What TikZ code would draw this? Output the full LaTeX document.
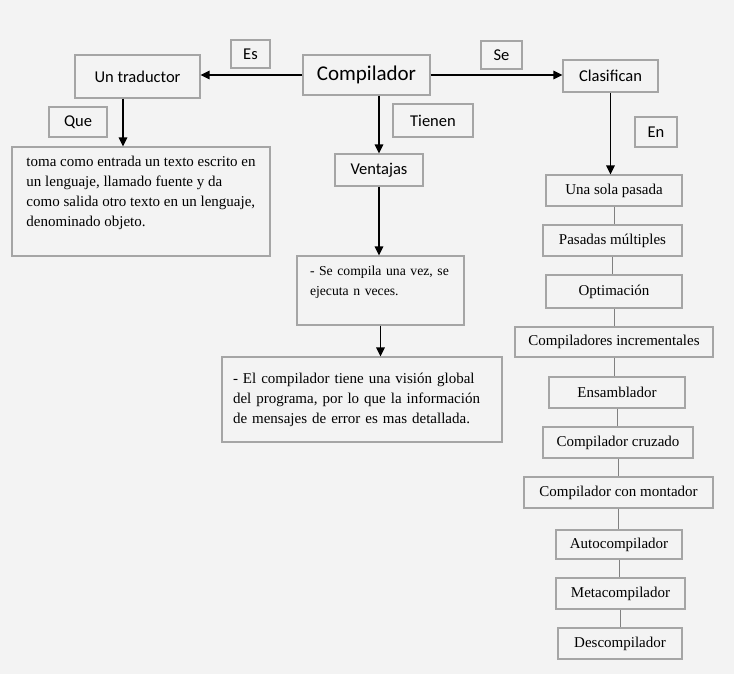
\documentclass[tikz,border=0pt]{standalone}
\usepackage{fontspec}
\setmainfont{Liberation Serif}
\newfontfamily\calibri{Carlito}
\usetikzlibrary{arrows.meta}
\definecolor{fondo}{RGB}{243,243,243}
\definecolor{borde}{RGB}{165,165,165}

\begin{document}
\begin{tikzpicture}[x=1pt,y=-1pt,
    caja/.style={draw=borde,line width=1.2pt,fill=fondo,inner sep=0pt},
    rot/.style={caja,font=\calibri\fontsize{16.5}{20}\selectfont},
    item/.style={caja,font=\fontsize{15}{20}\selectfont},
    flecha/.style={-{Triangle[length=9pt,width=8.5pt]},line width=1.3pt},
    linea/.style={line width=1pt,draw=gray}]%
  \useasboundingbox[fill=fondo] (0,0) rectangle (734,674);%
  % fila de arriba
  \node[rot,minimum width=127pt,minimum height=40pt,font=\calibri\fontsize{21}{24}\selectfont] (comp) at (366.5,75) {Compilador};%
  \node[rot,minimum width=125pt,minimum height=43pt] (trad) at (137.5,76.5) {Un traductor};%
  \node[rot,minimum width=95pt,minimum height=32pt] (clas) at (610.5,76) {Clasifican};%
  \node[rot,minimum width=39pt,minimum height=28pt] (es) at (250.5,54) {Es};%
  \node[rot,minimum width=41pt,minimum height=28pt] (se) at (501.5,55) {Se};%
  % traductor
  \node[rot,minimum width=58pt,minimum height=30pt] (que) at (78,122) {Que};%
  \node[item,minimum width=258pt,minimum height=109pt,align=left] (toma) at (141,201.5)
    {toma como entrada un texto escrito en\\ un lenguaje, llamado fuente y da\\ como salida otro texto en un lenguaje,\\ denominado objeto.\\ \mbox{}};%
  % ventajas
  \node[rot,minimum width=80pt,minimum height=33pt] (tie) at (433,120.5) {Tienen};%
  \node[rot,minimum width=88pt,minimum height=32pt] (ven) at (379,170) {Ventajas};%
  \node[item,minimum width=167pt,minimum height=69pt,inner xsep=13pt,text width=141pt,align=left,font=\fontsize{13.7}{20}\selectfont] (secomp) at (380.5,290.5)
    {- Se compila una vez, se\\ ejecuta n veces.\\ \mbox{}};%
  \node[item,minimum width=280pt,minimum height=85pt,inner xsep=11pt,text width=258pt,align=left] (elcomp) at (362,399.5)
    {- El compilador tiene una visi\'on global\\ del programa, por lo que la informaci\'on\\ de mensajes de error es mas detallada.};%
  % clasificacion
  \node[rot,minimum width=42pt,minimum height=30pt] (en) at (656,132) {En};%
  \node[item,minimum width=136pt,minimum height=31pt] (c1) at (614,190.5) {Una sola pasada};%
  \node[item,minimum width=139pt,minimum height=31pt] (c2) at (612.5,240.5) {Pasadas m\'ultiples};%
  \node[item,minimum width=136pt,minimum height=33pt] (c3) at (614,291.5) {Optimaci\'on};%
  \node[item,minimum width=198pt,minimum height=30pt] (c4) at (614,342) {Compiladores incrementales};%
  \node[item,minimum width=136pt,minimum height=31pt] (c5) at (617,392.5) {Ensamblador};%
  \node[item,minimum width=150pt,minimum height=31pt] (c6) at (618,442.5) {Compilador cruzado};%
  \node[item,minimum width=189pt,minimum height=31pt] (c7) at (618.5,492.5) {Compilador con montador};%
  \node[item,minimum width=126pt,minimum height=29pt] (c8) at (619,544.5) {Autocompilador};%
  \node[item,minimum width=129pt,minimum height=31pt] (c9) at (620.5,593.5) {Metacompilador};%
  \node[item,minimum width=124pt,minimum height=31pt] (c10) at (620,643.5) {Descompilador};%
  % flechas
  \coordinate (q) at ([xshift=-14.5pt]trad.south);%
  \draw[flecha] (comp.west) -- (comp.west -| trad.east);%
  \draw[flecha] (comp.east) -- (comp.east -| clas.west);%
  \draw[flecha] (q) -- (q |- toma.north);%
  \draw[flecha] (ven.north |- comp.south) -- (ven.north);%
  \draw[flecha] (ven.south) -- (ven.south |- secomp.north);%
  \draw[flecha] (secomp.south) -- (secomp.south |- elcomp.north);%
  \draw[flecha] (clas.south) -- (clas.south |- c1.north);%
  \foreach \a/\b in {c1/c2,c2/c3,c3/c4,c4/c5,c5/c6,c6/c7,c7/c8,c8/c9,c9/c10}
    \draw[linea] (\a.south) -- (\a.south |- \b.north);%
\end{tikzpicture}
\end{document}
